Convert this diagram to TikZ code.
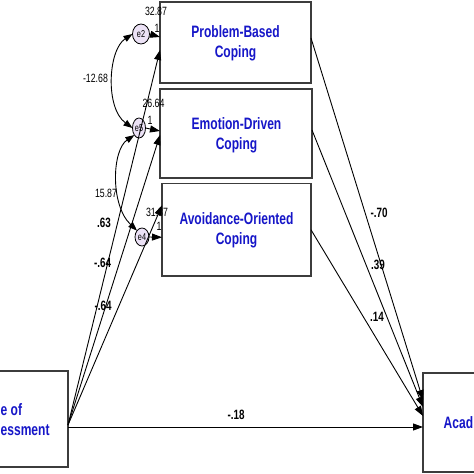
\documentclass[tikz,border=0pt]{standalone}
\usepackage{fontspec}
\setmainfont{Liberation Sans}[FakeStretch=0.73]
\usetikzlibrary{arrows.meta,shapes.geometric,calc}
\definecolor{vblue}{RGB}{22,22,200}
\definecolor{bord}{RGB}{60,60,60}
\definecolor{efill}{RGB}{236,226,246}
\begin{document}
\begin{tikzpicture}[x=1pt,y=-1pt,
  box/.style={draw=bord,line width=1.6pt,fill=white,inner sep=0pt,outer sep=0pt},
  btxt/.style={text=vblue,font=\fontsize{16.5}{20}\selectfont\bfseries,align=center,inner sep=0pt},
  arr/.style={-{Triangle[length=10pt,width=7pt]},line width=0.9pt},
  arrb/.style={{Triangle[length=9pt,width=6.5pt]}-{Triangle[length=9pt,width=6.5pt]},line width=0.9pt},
  ell/.style={ellipse,draw=black,line width=0.8pt,fill=efill,inner sep=0pt,outer sep=0pt,font=\fontsize{10}{10}\selectfont},
  num/.style={font=\fontsize{12}{12}\selectfont,inner sep=0pt},
  coef/.style={font=\fontsize{13.5}{13}\selectfont\bfseries,inner sep=0pt}]
\clip (0,0) rectangle (474,474);
\fill[white] (0,0) rectangle (474,474);
% boxes
\node[box,minimum width=151pt,minimum height=81pt] (pb) at (235.5,42.5) {};
\node[btxt] (pbt) at (235.5,43) {Problem-Based\\Coping};
\node[box,minimum width=152pt,minimum height=89pt] (ed) at (236,133.5) {};
\node[btxt] (edt) at (236.5,135) {Emotion-Driven\\Coping};
\node[box,minimum width=149pt,minimum height=92.5pt] (ao) at (236.5,229.75) {};
\node[btxt] (aot) at (236.5,230) {Avoidance-Oriented\\Coping};
\node[box,minimum width=108pt,minimum height=96pt] (src) at (14,419) {};
\node[btxt,anchor=west] (srca) at (0.5,410) {e of};
\node[btxt,anchor=west] (srcb) at (0.5,430) {essment};
\node[box,minimum width=97pt,minimum height=99pt] (dst) at (471.5,422.5) {};
\node[btxt,anchor=west] (dstt) at (443.5,423) {Acad};
% error terms
\node[ell,minimum width=17pt,minimum height=20pt] (e2) at (141,34) {e2};
\node[ell,minimum width=13pt,minimum height=20pt] (e5) at (139,128) {e5};
\node[ell,minimum width=14pt,minimum height=18pt] (e4) at (142,237) {e4};
% covariances
\draw[arrb] (e2.west) .. controls (108,50) and (105,108) .. (e5.west);
\draw[arrb] (e5.south west) .. controls (112,150) and (110,205) .. (e4.north west);
% error arrows
\draw[arr] (e2.east) -- ([yshift=5.5pt]pb.west);
\draw[arr] (e5.east) -- ([yshift=2.5pt]ed.west);
\draw[arr] (e4.east) -- ([yshift=-7.5pt]ao.west);
% paths from source
\draw[arr] ([yshift=-6pt]src.east) -- ([yshift=-7.5pt]pb.west);
\draw[arr] ([yshift=-6pt]src.east) -- ([yshift=-1.5pt]ed.west);
\draw[arr] ([yshift=-6pt]src.east) -- ([yshift=24.5pt]ao.west);
\draw[arr] ([yshift=-8pt]src.east) -- ([yshift=-4.5pt]dst.west);
% paths to outcome
\draw[arr] ([yshift=4.5pt]pb.east) -- ([yshift=22.5pt]dst.west);
\draw[arr] ([yshift=3.5pt]ed.east) -- ([yshift=15.5pt]dst.west);
\draw[arr] (ao.east) -- ([yshift=6.5pt]dst.west);
% labels
\node[num] (v2) at (156,11) {32.87};
\node[num] (o2) at (157,28) {1};
\node[num] (v5) at (153.5,103) {26.64};
\node[num] (o5) at (150,120) {1};
\node[num] (v4) at (157,212) {31.87};
\node[num] (o4) at (159,226) {1};
\node[num] (c25) at (95.5,78) {-12.68};
\node[num] (c54) at (106,193) {15.87};
\node[coef] (k1) at (104,223) {.63};
\node[coef] (k2) at (102.5,263) {-.64};
\node[coef] (k3) at (103,306) {-.64};
\node[coef] (k4) at (379,213) {-.70};
\node[coef] (k5) at (378,265) {.39};
\node[coef] (k6) at (377,317) {.14};
\node[coef] (k7) at (236,415) {-.18};
\end{tikzpicture}
\end{document}
